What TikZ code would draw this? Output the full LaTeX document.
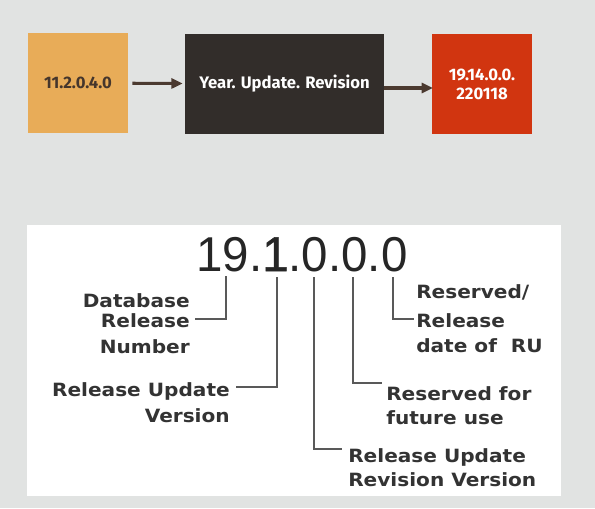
\documentclass[tikz,border=0pt]{standalone}
\usepackage{fontspec}
\setmainfont{Fira Sans}
\newfontfamily\lblfont[FakeStretch=1.1]{DejaVu Sans}
\newfontfamily\numfont[FakeStretch=0.97]{Liberation Sans}
\newfontfamily\numbold[FakeStretch=0.97,FakeBold=1]{Liberation Sans}
\usetikzlibrary{arrows.meta}
\definecolor{pagegray}{HTML}{E1E3E2}
\definecolor{oraorange}{HTML}{E8AC58}
\definecolor{oradark}{HTML}{322D2A}
\definecolor{orared}{HTML}{D13510}
\definecolor{oratext}{HTML}{45362C}
\definecolor{arrowbrown}{HTML}{4B3A30}
\newcommand{\lbl}[2]{\begin{tabular}[t]{@{}#1@{}}#2\end{tabular}}
\tikzset{
  box/.style={inner sep=0pt, align=center, minimum height=75pt,
    font=\bfseries\fontsize{12.5}{14.25}\selectfont},
  flow/.style={arrowbrown, line width=2.3pt, -{Triangle[length=8.5pt,width=7.5pt]}},
  digit/.style={gray!70!black, line width=1pt},
  label/.style={inner sep=0pt, text=black!80, font=\lblfont\bfseries\fontsize{13.7}{18.75}\selectfont}
}
\begin{document}
\begin{tikzpicture}[x=0.75pt,y=-0.75pt]
  \useasboundingbox (0,0) rectangle (595,508);
  \fill[pagegray] (0,0) rectangle (595,508);
  % version scheme, top row
  \node[box, fill=oraorange, text=oratext, minimum width=75pt] (old) at (78,83) {11.2.0.4.0};
  \node[box, fill=oradark, text=white, minimum width=149.25pt] (scheme) at (284.5,84) {Year. Update. Revision};
  \node[box, fill=orared, text=white, minimum width=75pt] (new) at (482,84) {19.14.0.0.\\220118};
  \draw[flow, shorten <=3pt, shorten >=1.5pt] (old) -- (scheme);
  \coordinate (s2) at (384,88);
  \coordinate (n2) at (433,88);
  \draw[flow] (s2) -- (n2);
  % explanation panel
  \fill[white] (27,225) rectangle (561,496);
  \node[inner sep=0pt, anchor=base west, text=black!85,
    font=\numfont\fontsize{36.7}{40}\selectfont] (ver) at (196,271) {19.{\numbold 1}.0.0.0};
  \node[label, anchor=base east] (dbrn) at (190,307) {\lbl{r}{Database\\[-3.75pt] Release\\[0.75pt] Number}};
  \node[label, anchor=base east] (ruv) at (230,396) {\lbl{r}{Release Update\\[0.75pt] Version}};
  \node[label, anchor=base west] (rurv) at (348,462) {\lbl{l}{Release Update\\[-0.75pt] Revision Version}};
  \node[label, anchor=base west] (rfu) at (386,400) {\lbl{l}{Reserved for\\[-0.75pt] future use}};
  \node[label, anchor=base west] (rsv) at (416,298) {\lbl{l}{Reserved/\\[3pt] Release\\ date of~ RU}};
  % ticks under the digits
  \coordinate (t1) at (226,276); \coordinate (e1) at (195,319);
  \coordinate (t2) at (277,277); \coordinate (e2) at (236,387);
  \coordinate (t3) at (314,277); \coordinate (e3) at (342,449);
  \coordinate (t4) at (353,277); \coordinate (e4) at (382,383);
  \coordinate (t5) at (393,277); \coordinate (e5) at (414,319);
  \foreach \i in {1,...,5} {
    \draw[digit] (t\i) |- (e\i);
  }
\end{tikzpicture}
\end{document}
